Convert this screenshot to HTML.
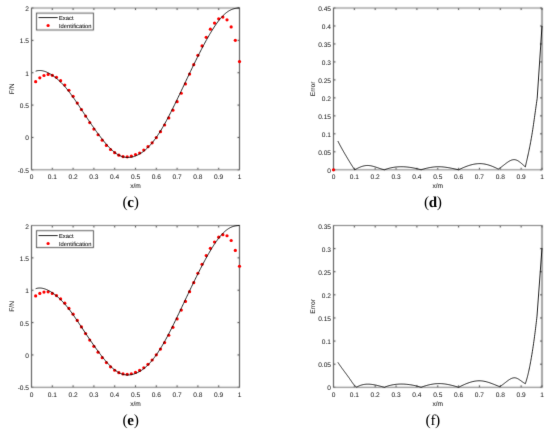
<!DOCTYPE html>
<html><head><meta charset="utf-8"><title>Figure</title>
<style>
html,body{margin:0;padding:0;background:#fff;}
body{width:550px;height:431px;overflow:hidden;}
svg{display:block;}
.ax{fill:none;stroke:#4b4b4b;stroke-width:1.0;}
.axh{fill:none;stroke:#7b7b7b;stroke-width:1.0;}
.tk{fill:none;stroke:#404040;stroke-width:1.0;}
.lg{fill:#fff;stroke:#4b4b4b;stroke-width:0.9;}
.cv{fill:none;stroke:#000;stroke-width:0.85;stroke-linejoin:round;}
.dt{fill:#ff0000;}
text{font-family:"Liberation Sans",Arial,Helvetica,sans-serif;text-rendering:geometricPrecision;}
.tl{font-size:6.6px;fill:#262626;stroke:#333;stroke-width:0.06px;}
.lt{font-size:5.8px;fill:#000;stroke:#000;stroke-width:0.05px;}
.cap{font-family:"Liberation Serif","Times New Roman",serif;font-size:15.6px;fill:#000;letter-spacing:-0.35px;}
.cap .b{font-weight:bold;}
.cap .l{font-size:15px;}
</style></head><body>
<svg width="550" height="431" viewBox="0 0 550 431">
<defs><filter id="bl" x="0" y="0" width="550" height="431" filterUnits="userSpaceOnUse" color-interpolation-filters="sRGB"><feConvolveMatrix order="3" kernelMatrix="1 2 1 2 12 2 1 2 1" divisor="24" edgeMode="duplicate"/></filter><filter id="bl2" x="0" y="0" width="550" height="431" filterUnits="userSpaceOnUse" color-interpolation-filters="sRGB"><feConvolveMatrix order="3" kernelMatrix="0 1 0 1 10 1 0 1 0" divisor="14" edgeMode="duplicate"/></filter></defs>
<g filter="url(#bl)">
<rect width="550" height="431" fill="#fff"/>
<path class="tk" d="M31.50 169.80v-2.00M31.50 8.00v2.00M52.30 169.80v-2.00M52.30 8.00v2.00M73.10 169.80v-2.00M73.10 8.00v2.00M93.90 169.80v-2.00M93.90 8.00v2.00M114.70 169.80v-2.00M114.70 8.00v2.00M135.50 169.80v-2.00M135.50 8.00v2.00M156.30 169.80v-2.00M156.30 8.00v2.00M177.10 169.80v-2.00M177.10 8.00v2.00M197.90 169.80v-2.00M197.90 8.00v2.00M218.70 169.80v-2.00M218.70 8.00v2.00M239.50 169.80v-2.00M239.50 8.00v2.00M31.50 169.80h2.00M239.50 169.80h-2.00M31.50 137.44h2.00M239.50 137.44h-2.00M31.50 105.08h2.00M239.50 105.08h-2.00M31.50 72.72h2.00M239.50 72.72h-2.00M31.50 40.36h2.00M239.50 40.36h-2.00M31.50 8.00h2.00M239.50 8.00h-2.00"/>
<path class="axh" d="M31.05 8.00H239.95M31.05 169.80H239.95"/>
<path class="ax" d="M31.50 8.00V169.80M239.50 8.00V169.80"/>
<rect class="lg" x="36.50" y="13.10" width="57" height="16.9"/>
<path class="tk" d="M333.50 169.80v-2.00M333.50 8.00v2.00M354.35 169.80v-2.00M354.35 8.00v2.00M375.20 169.80v-2.00M375.20 8.00v2.00M396.05 169.80v-2.00M396.05 8.00v2.00M416.90 169.80v-2.00M416.90 8.00v2.00M437.75 169.80v-2.00M437.75 8.00v2.00M458.60 169.80v-2.00M458.60 8.00v2.00M479.45 169.80v-2.00M479.45 8.00v2.00M500.30 169.80v-2.00M500.30 8.00v2.00M521.15 169.80v-2.00M521.15 8.00v2.00M542.00 169.80v-2.00M542.00 8.00v2.00M333.50 169.80h2.00M542.00 169.80h-2.00M333.50 151.82h2.00M542.00 151.82h-2.00M333.50 133.84h2.00M542.00 133.84h-2.00M333.50 115.87h2.00M542.00 115.87h-2.00M333.50 97.89h2.00M542.00 97.89h-2.00M333.50 79.91h2.00M542.00 79.91h-2.00M333.50 61.93h2.00M542.00 61.93h-2.00M333.50 43.96h2.00M542.00 43.96h-2.00M333.50 25.98h2.00M542.00 25.98h-2.00M333.50 8.00h2.00M542.00 8.00h-2.00"/>
<path class="axh" d="M333.05 8.00H542.45M333.05 169.80H542.45"/>
<path class="ax" d="M333.50 8.00V169.80M542.00 8.00V169.80"/>
<path class="tk" d="M31.50 387.30v-2.00M31.50 225.50v2.00M52.30 387.30v-2.00M52.30 225.50v2.00M73.10 387.30v-2.00M73.10 225.50v2.00M93.90 387.30v-2.00M93.90 225.50v2.00M114.70 387.30v-2.00M114.70 225.50v2.00M135.50 387.30v-2.00M135.50 225.50v2.00M156.30 387.30v-2.00M156.30 225.50v2.00M177.10 387.30v-2.00M177.10 225.50v2.00M197.90 387.30v-2.00M197.90 225.50v2.00M218.70 387.30v-2.00M218.70 225.50v2.00M239.50 387.30v-2.00M239.50 225.50v2.00M31.50 387.30h2.00M239.50 387.30h-2.00M31.50 354.94h2.00M239.50 354.94h-2.00M31.50 322.58h2.00M239.50 322.58h-2.00M31.50 290.22h2.00M239.50 290.22h-2.00M31.50 257.86h2.00M239.50 257.86h-2.00M31.50 225.50h2.00M239.50 225.50h-2.00"/>
<path class="axh" d="M31.05 225.50H239.95M31.05 387.30H239.95"/>
<path class="ax" d="M31.50 225.50V387.30M239.50 225.50V387.30"/>
<rect class="lg" x="36.50" y="230.70" width="57" height="16.9"/>
<path class="tk" d="M333.50 387.30v-2.00M333.50 225.50v2.00M354.35 387.30v-2.00M354.35 225.50v2.00M375.20 387.30v-2.00M375.20 225.50v2.00M396.05 387.30v-2.00M396.05 225.50v2.00M416.90 387.30v-2.00M416.90 225.50v2.00M437.75 387.30v-2.00M437.75 225.50v2.00M458.60 387.30v-2.00M458.60 225.50v2.00M479.45 387.30v-2.00M479.45 225.50v2.00M500.30 387.30v-2.00M500.30 225.50v2.00M521.15 387.30v-2.00M521.15 225.50v2.00M542.00 387.30v-2.00M542.00 225.50v2.00M333.50 387.30h2.00M542.00 387.30h-2.00M333.50 364.19h2.00M542.00 364.19h-2.00M333.50 341.07h2.00M542.00 341.07h-2.00M333.50 317.96h2.00M542.00 317.96h-2.00M333.50 294.84h2.00M542.00 294.84h-2.00M333.50 271.73h2.00M542.00 271.73h-2.00M333.50 248.61h2.00M542.00 248.61h-2.00M333.50 225.50h2.00M542.00 225.50h-2.00"/>
<path class="axh" d="M333.05 225.50H542.45M333.05 387.30H542.45"/>
<path class="ax" d="M333.50 225.50V387.30M542.00 225.50V387.30"/>
</g>
<g filter="url(#bl2)">
<circle class="dt" cx="35.66" cy="81.70" r="1.60"/>
<circle class="dt" cx="39.82" cy="77.81" r="1.60"/>
<circle class="dt" cx="43.98" cy="75.48" r="1.60"/>
<circle class="dt" cx="48.14" cy="74.44" r="1.60"/>
<circle class="dt" cx="52.30" cy="75.35" r="1.60"/>
<circle class="dt" cx="56.46" cy="77.29" r="1.60"/>
<circle class="dt" cx="60.62" cy="80.66" r="1.60"/>
<circle class="dt" cx="64.78" cy="85.07" r="1.60"/>
<circle class="dt" cx="68.94" cy="90.25" r="1.60"/>
<circle class="dt" cx="73.10" cy="96.28" r="1.60"/>
<circle class="dt" cx="77.26" cy="103.08" r="1.60"/>
<circle class="dt" cx="81.42" cy="109.62" r="1.60"/>
<circle class="dt" cx="85.58" cy="116.10" r="1.60"/>
<circle class="dt" cx="89.74" cy="122.58" r="1.60"/>
<circle class="dt" cx="93.90" cy="129.06" r="1.60"/>
<circle class="dt" cx="98.06" cy="134.77" r="1.60"/>
<circle class="dt" cx="102.22" cy="140.21" r="1.60"/>
<circle class="dt" cx="106.38" cy="145.39" r="1.60"/>
<circle class="dt" cx="110.54" cy="149.48" r="1.60"/>
<circle class="dt" cx="114.70" cy="152.65" r="1.60"/>
<circle class="dt" cx="118.86" cy="155.18" r="1.60"/>
<circle class="dt" cx="123.02" cy="156.54" r="1.60"/>
<circle class="dt" cx="127.18" cy="156.80" r="1.60"/>
<circle class="dt" cx="131.34" cy="156.22" r="1.60"/>
<circle class="dt" cx="135.50" cy="154.60" r="1.60"/>
<circle class="dt" cx="139.66" cy="152.98" r="1.60"/>
<circle class="dt" cx="143.82" cy="150.06" r="1.60"/>
<circle class="dt" cx="147.98" cy="146.69" r="1.60"/>
<circle class="dt" cx="152.14" cy="142.80" r="1.60"/>
<circle class="dt" cx="156.30" cy="137.62" r="1.60"/>
<circle class="dt" cx="160.46" cy="131.72" r="1.60"/>
<circle class="dt" cx="164.62" cy="124.98" r="1.60"/>
<circle class="dt" cx="168.78" cy="117.92" r="1.60"/>
<circle class="dt" cx="172.94" cy="110.21" r="1.60"/>
<circle class="dt" cx="177.10" cy="101.72" r="1.60"/>
<circle class="dt" cx="181.26" cy="93.23" r="1.60"/>
<circle class="dt" cx="185.42" cy="83.96" r="1.60"/>
<circle class="dt" cx="189.58" cy="74.11" r="1.60"/>
<circle class="dt" cx="193.74" cy="64.72" r="1.60"/>
<circle class="dt" cx="197.90" cy="55.32" r="1.60"/>
<circle class="dt" cx="202.06" cy="45.93" r="1.60"/>
<circle class="dt" cx="206.22" cy="37.31" r="1.60"/>
<circle class="dt" cx="210.38" cy="29.21" r="1.60"/>
<circle class="dt" cx="214.54" cy="23.05" r="1.60"/>
<circle class="dt" cx="218.70" cy="18.78" r="1.60"/>
<circle class="dt" cx="222.86" cy="17.09" r="1.60"/>
<circle class="dt" cx="227.02" cy="19.81" r="1.60"/>
<circle class="dt" cx="231.18" cy="26.94" r="1.60"/>
<circle class="dt" cx="235.34" cy="40.29" r="1.60"/>
<circle class="dt" cx="239.50" cy="61.61" r="1.60"/>
<path class="cv" d="M35.66 71.19L36.34 70.97L37.02 70.80L37.71 70.67L38.39 70.59L39.07 70.53L39.75 70.52L40.43 70.54L41.11 70.59L41.80 70.68L42.48 70.80L43.16 70.94L43.84 71.12L44.52 71.32L45.20 71.55L45.89 71.80L46.57 72.08L47.25 72.38L47.93 72.70L48.61 73.05L49.29 73.41L49.98 73.80L50.66 74.20L51.34 74.63L52.02 75.07L52.70 75.53L53.39 76.01L54.07 76.51L54.75 77.02L55.43 77.55L56.11 78.10L56.79 78.66L57.48 79.24L58.16 79.84L58.84 80.45L59.52 81.08L60.20 81.73L60.88 82.39L61.57 83.07L62.25 83.77L62.93 84.49L63.61 85.22L64.29 85.97L64.97 86.74L65.66 87.53L66.34 88.34L67.02 89.16L67.70 90.01L68.38 90.87L69.07 91.75L69.75 92.64L70.43 93.55L71.11 94.47L71.79 95.41L72.47 96.36L73.16 97.32L73.84 98.29L74.52 99.27L75.20 100.27L75.88 101.26L76.56 102.27L77.25 103.28L77.93 104.29L78.61 105.31L79.29 106.33L79.97 107.36L80.65 108.38L81.34 109.41L82.02 110.43L82.70 111.46L83.38 112.48L84.06 113.51L84.75 114.53L85.43 115.55L86.11 116.57L86.79 117.59L87.47 118.60L88.15 119.61L88.84 120.62L89.52 121.62L90.20 122.62L90.88 123.62L91.56 124.61L92.24 125.60L92.93 126.58L93.61 127.56L94.29 128.53L94.97 129.50L95.65 130.46L96.33 131.41L97.02 132.35L97.70 133.29L98.38 134.21L99.06 135.13L99.74 136.04L100.43 136.94L101.11 137.83L101.79 138.71L102.47 139.57L103.15 140.43L103.83 141.27L104.52 142.09L105.20 142.91L105.88 143.71L106.56 144.49L107.24 145.26L107.92 146.01L108.61 146.74L109.29 147.46L109.97 148.15L110.65 148.83L111.33 149.49L112.01 150.12L112.70 150.73L113.38 151.33L114.06 151.89L114.74 152.44L115.42 152.95L116.11 153.45L116.79 153.91L117.47 154.35L118.15 154.76L118.83 155.14L119.51 155.50L120.20 155.82L120.88 156.12L121.56 156.39L122.24 156.62L122.92 156.83L123.60 157.01L124.29 157.16L124.97 157.29L125.65 157.38L126.33 157.45L127.01 157.49L127.69 157.50L128.38 157.49L129.06 157.45L129.74 157.39L130.42 157.30L131.10 157.20L131.79 157.07L132.47 156.91L133.15 156.74L133.83 156.54L134.51 156.32L135.19 156.08L135.88 155.81L136.56 155.53L137.24 155.23L137.92 154.90L138.60 154.55L139.28 154.18L139.97 153.79L140.65 153.37L141.33 152.93L142.01 152.47L142.69 151.99L143.37 151.48L144.06 150.95L144.74 150.40L145.42 149.82L146.10 149.22L146.78 148.59L147.47 147.94L148.15 147.27L148.83 146.57L149.51 145.85L150.19 145.10L150.87 144.33L151.56 143.53L152.24 142.71L152.92 141.87L153.60 141.01L154.28 140.12L154.96 139.20L155.65 138.27L156.33 137.31L157.01 136.33L157.69 135.33L158.37 134.30L159.05 133.26L159.74 132.19L160.42 131.10L161.10 129.99L161.78 128.87L162.46 127.72L163.15 126.55L163.83 125.37L164.51 124.17L165.19 122.95L165.87 121.71L166.55 120.46L167.24 119.19L167.92 117.91L168.60 116.61L169.28 115.30L169.96 113.98L170.64 112.65L171.33 111.30L172.01 109.94L172.69 108.58L173.37 107.20L174.05 105.82L174.73 104.43L175.42 103.03L176.10 101.63L176.78 100.22L177.46 98.80L178.14 97.38L178.83 95.95L179.51 94.53L180.19 93.09L180.87 91.66L181.55 90.22L182.23 88.78L182.92 87.35L183.60 85.91L184.28 84.47L184.96 83.03L185.64 81.59L186.32 80.15L187.01 78.71L187.69 77.28L188.37 75.85L189.05 74.42L189.73 73.00L190.41 71.57L191.10 70.16L191.78 68.74L192.46 67.33L193.14 65.93L193.82 64.53L194.51 63.14L195.19 61.75L195.87 60.37L196.55 59.00L197.23 57.63L197.91 56.27L198.60 54.91L199.28 53.57L199.96 52.23L200.64 50.90L201.32 49.58L202.00 48.27L202.69 46.97L203.37 45.68L204.05 44.40L204.73 43.14L205.41 41.88L206.09 40.64L206.78 39.41L207.46 38.19L208.14 36.99L208.82 35.80L209.50 34.63L210.19 33.48L210.87 32.34L211.55 31.22L212.23 30.11L212.91 29.03L213.59 27.97L214.28 26.92L214.96 25.90L215.64 24.90L216.32 23.92L217.00 22.96L217.68 22.03L218.37 21.12L219.05 20.24L219.73 19.39L220.41 18.56L221.09 17.76L221.77 17.00L222.46 16.26L223.14 15.55L223.82 14.88L224.50 14.24L225.18 13.63L225.87 13.05L226.55 12.51L227.23 12.00L227.91 11.53L228.59 11.09L229.27 10.68L229.96 10.30L230.64 9.96L231.32 9.65L232.00 9.37L232.68 9.12L233.36 8.89L234.05 8.70L234.73 8.53L235.41 8.39L236.09 8.27L236.77 8.17L237.45 8.09L238.14 8.03L238.82 7.98L239.50 7.95"/>
<path class="cv" d="M38.50 17.60h19.2"/>
<circle class="dt" cx="48.10" cy="25.50" r="1.60"/>
<path class="cv" d="M337.88 141.04L338.23 141.74L338.58 142.44L338.93 143.13L339.29 143.82L339.64 144.49L339.99 145.16L340.34 145.82L340.69 146.48L341.05 147.13L341.40 147.77L341.75 148.41L342.10 149.04L342.45 149.67L342.80 150.29L343.16 150.91L343.51 151.52L343.86 152.13L344.21 152.74L344.56 153.35L344.92 153.95L345.27 154.55L345.62 155.15L345.97 155.74L346.32 156.34L346.67 156.93L347.03 157.52L347.38 158.11L347.73 158.70L348.08 159.29L348.43 159.88L348.79 160.47L349.14 161.05L349.49 161.63L349.84 162.20L350.19 162.78L350.54 163.35L350.90 163.91L351.25 164.48L351.60 165.03L351.95 165.59L352.30 166.13L352.66 166.68L353.01 167.21L353.36 167.74L353.71 168.27L354.06 168.79L354.42 169.30L354.77 169.80L355.38 169.45L356.00 169.11L356.62 168.77L357.23 168.45L357.85 168.14L358.47 167.84L359.08 167.56L359.70 167.29L360.32 167.04L360.94 166.80L361.55 166.58L362.17 166.37L362.79 166.19L363.40 166.02L364.02 165.88L364.64 165.75L365.25 165.65L365.87 165.57L366.49 165.52L367.10 165.49L367.72 165.48L368.34 165.50L368.95 165.54L369.57 165.61L370.19 165.69L370.80 165.79L371.42 165.91L372.04 166.04L372.65 166.19L373.27 166.35L373.89 166.53L374.50 166.71L375.12 166.90L375.74 167.10L376.36 167.30L376.97 167.51L377.59 167.72L378.21 167.93L378.82 168.14L379.44 168.35L380.06 168.56L380.67 168.76L381.29 168.96L381.91 169.15L382.52 169.33L383.14 169.50L383.76 169.65L384.37 169.80L385.14 169.51L385.90 169.25L386.67 168.99L387.43 168.75L388.20 168.53L388.96 168.32L389.73 168.12L390.49 167.94L391.25 167.77L392.02 167.62L392.78 167.47L393.55 167.35L394.31 167.23L395.08 167.13L395.84 167.04L396.61 166.96L397.37 166.90L398.13 166.84L398.90 166.80L399.66 166.77L400.43 166.75L401.19 166.74L401.96 166.75L402.72 166.76L403.49 166.78L404.25 166.82L405.02 166.86L405.78 166.91L406.54 166.98L407.31 167.05L408.07 167.13L408.84 167.22L409.60 167.32L410.37 167.43L411.13 167.55L411.90 167.68L412.66 167.81L413.43 167.96L414.19 168.11L414.95 168.27L415.72 168.43L416.48 168.61L417.25 168.79L418.01 168.98L418.78 169.17L419.54 169.38L420.31 169.58L421.07 169.80L421.85 169.55L422.63 169.31L423.42 169.08L424.20 168.86L424.98 168.65L425.76 168.45L426.54 168.26L427.32 168.08L428.11 167.90L428.89 167.74L429.67 167.59L430.45 167.46L431.23 167.33L432.02 167.21L432.80 167.11L433.58 167.02L434.36 166.94L435.14 166.88L435.93 166.82L436.71 166.78L437.49 166.76L438.27 166.74L439.05 166.75L439.84 166.76L440.62 166.79L441.40 166.83L442.18 166.89L442.96 166.95L443.74 167.03L444.53 167.12L445.31 167.21L446.09 167.32L446.87 167.43L447.65 167.56L448.44 167.69L449.22 167.82L450.00 167.97L450.78 168.12L451.56 168.27L452.34 168.43L453.13 168.59L453.91 168.76L454.69 168.93L455.47 169.10L456.25 169.28L457.04 169.45L457.82 169.63L458.60 169.80L459.43 169.40L460.25 169.01L461.08 168.63L461.90 168.26L462.73 167.89L463.55 167.54L464.38 167.19L465.20 166.86L466.03 166.54L466.85 166.23L467.68 165.93L468.50 165.65L469.33 165.39L470.15 165.14L470.98 164.91L471.81 164.69L472.63 164.49L473.46 164.31L474.28 164.15L475.11 164.01L475.93 163.89L476.76 163.80L477.58 163.72L478.41 163.67L479.23 163.64L480.06 163.63L480.88 163.65L481.71 163.70L482.53 163.77L483.36 163.87L484.18 163.99L485.01 164.14L485.84 164.31L486.66 164.50L487.49 164.71L488.31 164.94L489.14 165.20L489.96 165.47L490.79 165.76L491.61 166.07L492.44 166.39L493.26 166.74L494.09 167.09L494.91 167.47L495.74 167.85L496.56 168.25L497.39 168.66L498.22 169.08L498.78 168.76L499.34 168.41L499.91 168.04L500.47 167.65L501.04 167.24L501.60 166.82L502.17 166.39L502.73 165.95L503.30 165.50L503.86 165.06L504.43 164.61L504.99 164.16L505.56 163.72L506.12 163.29L506.69 162.87L507.25 162.47L507.81 162.08L508.38 161.71L508.94 161.36L509.51 161.03L510.07 160.73L510.64 160.47L511.20 160.23L511.77 160.03L512.33 159.87L512.90 159.75L513.46 159.68L514.03 159.65L514.59 159.67L515.16 159.74L515.72 159.87L516.28 160.04L516.85 160.27L517.41 160.53L517.98 160.84L518.54 161.18L519.11 161.56L519.67 161.97L520.24 162.40L520.80 162.86L521.37 163.33L521.93 163.83L522.50 164.33L523.06 164.84L523.63 165.36L524.19 165.89L524.76 166.41L525.32 166.92L525.57 165.85L525.82 164.78L526.06 163.70L526.31 162.63L526.56 161.55L526.81 160.47L527.05 159.38L527.30 158.28L527.55 157.18L527.80 156.07L528.04 154.94L528.29 153.80L528.54 152.65L528.79 151.48L529.03 150.29L529.28 149.08L529.53 147.86L529.78 146.61L530.02 145.34L530.27 144.05L530.52 142.73L530.77 141.39L531.01 140.01L531.26 138.61L531.51 137.18L531.76 135.71L532.01 134.21L532.25 132.68L532.50 131.10L532.75 129.50L533.00 127.86L533.24 126.19L533.49 124.49L533.74 122.77L533.99 121.03L534.23 119.28L534.48 117.51L534.73 115.74L534.98 113.96L535.22 112.18L535.47 110.40L535.72 108.62L535.97 106.85L536.21 105.09L536.46 103.35L536.71 101.63L536.96 99.93L537.20 98.25L542.00 25.98"/>
<circle class="dt" cx="333.50" cy="169.80" r="1.60"/>
<circle class="dt" cx="35.66" cy="295.92" r="1.60"/>
<circle class="dt" cx="39.82" cy="293.46" r="1.60"/>
<circle class="dt" cx="43.98" cy="292.03" r="1.60"/>
<circle class="dt" cx="48.14" cy="291.84" r="1.60"/>
<circle class="dt" cx="52.30" cy="293.46" r="1.60"/>
<circle class="dt" cx="56.46" cy="295.53" r="1.60"/>
<circle class="dt" cx="60.62" cy="298.89" r="1.60"/>
<circle class="dt" cx="64.78" cy="303.16" r="1.60"/>
<circle class="dt" cx="68.94" cy="308.47" r="1.60"/>
<circle class="dt" cx="73.10" cy="314.17" r="1.60"/>
<circle class="dt" cx="77.26" cy="320.43" r="1.60"/>
<circle class="dt" cx="81.42" cy="326.97" r="1.60"/>
<circle class="dt" cx="85.58" cy="333.62" r="1.60"/>
<circle class="dt" cx="89.74" cy="340.10" r="1.60"/>
<circle class="dt" cx="93.90" cy="346.31" r="1.60"/>
<circle class="dt" cx="98.06" cy="352.18" r="1.60"/>
<circle class="dt" cx="102.22" cy="357.64" r="1.60"/>
<circle class="dt" cx="106.38" cy="362.56" r="1.60"/>
<circle class="dt" cx="110.54" cy="366.81" r="1.60"/>
<circle class="dt" cx="114.70" cy="370.24" r="1.60"/>
<circle class="dt" cx="118.86" cy="372.66" r="1.60"/>
<circle class="dt" cx="123.02" cy="373.96" r="1.60"/>
<circle class="dt" cx="127.18" cy="374.28" r="1.60"/>
<circle class="dt" cx="131.34" cy="373.73" r="1.60"/>
<circle class="dt" cx="135.50" cy="372.43" r="1.60"/>
<circle class="dt" cx="139.66" cy="370.46" r="1.60"/>
<circle class="dt" cx="143.82" cy="367.76" r="1.60"/>
<circle class="dt" cx="147.98" cy="364.29" r="1.60"/>
<circle class="dt" cx="152.14" cy="359.99" r="1.60"/>
<circle class="dt" cx="156.30" cy="354.85" r="1.60"/>
<circle class="dt" cx="160.46" cy="349.11" r="1.60"/>
<circle class="dt" cx="164.62" cy="342.55" r="1.60"/>
<circle class="dt" cx="168.78" cy="335.24" r="1.60"/>
<circle class="dt" cx="172.94" cy="327.31" r="1.60"/>
<circle class="dt" cx="177.10" cy="318.88" r="1.60"/>
<circle class="dt" cx="181.26" cy="310.05" r="1.60"/>
<circle class="dt" cx="185.42" cy="301.42" r="1.60"/>
<circle class="dt" cx="189.58" cy="291.64" r="1.60"/>
<circle class="dt" cx="193.74" cy="282.65" r="1.60"/>
<circle class="dt" cx="197.90" cy="273.26" r="1.60"/>
<circle class="dt" cx="202.06" cy="264.33" r="1.60"/>
<circle class="dt" cx="206.22" cy="255.59" r="1.60"/>
<circle class="dt" cx="210.38" cy="248.28" r="1.60"/>
<circle class="dt" cx="214.54" cy="242.00" r="1.60"/>
<circle class="dt" cx="218.70" cy="237.15" r="1.60"/>
<circle class="dt" cx="222.86" cy="234.69" r="1.60"/>
<circle class="dt" cx="227.02" cy="235.73" r="1.60"/>
<circle class="dt" cx="231.18" cy="240.52" r="1.60"/>
<circle class="dt" cx="235.34" cy="250.42" r="1.60"/>
<circle class="dt" cx="239.50" cy="266.27" r="1.60"/>
<path class="cv" d="M35.66 288.69L36.34 288.47L37.02 288.30L37.71 288.17L38.39 288.09L39.07 288.03L39.75 288.02L40.43 288.04L41.11 288.09L41.80 288.18L42.48 288.30L43.16 288.44L43.84 288.62L44.52 288.82L45.20 289.05L45.89 289.30L46.57 289.58L47.25 289.88L47.93 290.20L48.61 290.55L49.29 290.91L49.98 291.30L50.66 291.70L51.34 292.13L52.02 292.57L52.70 293.03L53.39 293.51L54.07 294.01L54.75 294.52L55.43 295.05L56.11 295.60L56.79 296.16L57.48 296.74L58.16 297.34L58.84 297.95L59.52 298.58L60.20 299.23L60.88 299.89L61.57 300.57L62.25 301.27L62.93 301.99L63.61 302.72L64.29 303.47L64.97 304.24L65.66 305.03L66.34 305.84L67.02 306.66L67.70 307.51L68.38 308.37L69.07 309.25L69.75 310.14L70.43 311.05L71.11 311.97L71.79 312.91L72.47 313.86L73.16 314.82L73.84 315.79L74.52 316.77L75.20 317.77L75.88 318.76L76.56 319.77L77.25 320.78L77.93 321.79L78.61 322.81L79.29 323.83L79.97 324.86L80.65 325.88L81.34 326.91L82.02 327.93L82.70 328.96L83.38 329.98L84.06 331.01L84.75 332.03L85.43 333.05L86.11 334.07L86.79 335.09L87.47 336.10L88.15 337.11L88.84 338.12L89.52 339.12L90.20 340.12L90.88 341.12L91.56 342.11L92.24 343.10L92.93 344.08L93.61 345.06L94.29 346.03L94.97 347.00L95.65 347.96L96.33 348.91L97.02 349.85L97.70 350.79L98.38 351.71L99.06 352.63L99.74 353.54L100.43 354.44L101.11 355.33L101.79 356.21L102.47 357.07L103.15 357.93L103.83 358.77L104.52 359.59L105.20 360.41L105.88 361.21L106.56 361.99L107.24 362.76L107.92 363.51L108.61 364.24L109.29 364.96L109.97 365.65L110.65 366.33L111.33 366.99L112.01 367.62L112.70 368.23L113.38 368.83L114.06 369.39L114.74 369.94L115.42 370.45L116.11 370.95L116.79 371.41L117.47 371.85L118.15 372.26L118.83 372.64L119.51 373.00L120.20 373.32L120.88 373.62L121.56 373.89L122.24 374.12L122.92 374.33L123.60 374.51L124.29 374.66L124.97 374.79L125.65 374.88L126.33 374.95L127.01 374.99L127.69 375.00L128.38 374.99L129.06 374.95L129.74 374.89L130.42 374.80L131.10 374.70L131.79 374.57L132.47 374.41L133.15 374.24L133.83 374.04L134.51 373.82L135.19 373.58L135.88 373.31L136.56 373.03L137.24 372.73L137.92 372.40L138.60 372.05L139.28 371.68L139.97 371.29L140.65 370.87L141.33 370.43L142.01 369.97L142.69 369.49L143.37 368.98L144.06 368.45L144.74 367.90L145.42 367.32L146.10 366.72L146.78 366.09L147.47 365.44L148.15 364.77L148.83 364.07L149.51 363.35L150.19 362.60L150.87 361.83L151.56 361.03L152.24 360.21L152.92 359.37L153.60 358.51L154.28 357.62L154.96 356.70L155.65 355.77L156.33 354.81L157.01 353.83L157.69 352.83L158.37 351.80L159.05 350.76L159.74 349.69L160.42 348.60L161.10 347.49L161.78 346.37L162.46 345.22L163.15 344.05L163.83 342.87L164.51 341.67L165.19 340.45L165.87 339.21L166.55 337.96L167.24 336.69L167.92 335.41L168.60 334.11L169.28 332.80L169.96 331.48L170.64 330.15L171.33 328.80L172.01 327.44L172.69 326.08L173.37 324.70L174.05 323.32L174.73 321.93L175.42 320.53L176.10 319.13L176.78 317.72L177.46 316.30L178.14 314.88L178.83 313.45L179.51 312.03L180.19 310.59L180.87 309.16L181.55 307.72L182.23 306.28L182.92 304.85L183.60 303.41L184.28 301.97L184.96 300.53L185.64 299.09L186.32 297.65L187.01 296.21L187.69 294.78L188.37 293.35L189.05 291.92L189.73 290.50L190.41 289.07L191.10 287.66L191.78 286.24L192.46 284.83L193.14 283.43L193.82 282.03L194.51 280.64L195.19 279.25L195.87 277.87L196.55 276.50L197.23 275.13L197.91 273.77L198.60 272.41L199.28 271.07L199.96 269.73L200.64 268.40L201.32 267.08L202.00 265.77L202.69 264.47L203.37 263.18L204.05 261.90L204.73 260.64L205.41 259.38L206.09 258.14L206.78 256.91L207.46 255.69L208.14 254.49L208.82 253.30L209.50 252.13L210.19 250.98L210.87 249.84L211.55 248.72L212.23 247.61L212.91 246.53L213.59 245.47L214.28 244.42L214.96 243.40L215.64 242.40L216.32 241.42L217.00 240.46L217.68 239.53L218.37 238.62L219.05 237.74L219.73 236.89L220.41 236.06L221.09 235.26L221.77 234.50L222.46 233.76L223.14 233.05L223.82 232.38L224.50 231.74L225.18 231.13L225.87 230.55L226.55 230.01L227.23 229.50L227.91 229.03L228.59 228.59L229.27 228.18L229.96 227.80L230.64 227.46L231.32 227.15L232.00 226.87L232.68 226.62L233.36 226.39L234.05 226.20L234.73 226.03L235.41 225.89L236.09 225.77L236.77 225.67L237.45 225.59L238.14 225.53L238.82 225.48L239.50 225.45"/>
<path class="cv" d="M38.50 235.60h19.2"/>
<circle class="dt" cx="48.10" cy="243.50" r="1.60"/>
<path class="cv" d="M337.88 362.34L338.19 362.82L338.51 363.30L338.83 363.77L339.14 364.24L339.46 364.70L339.78 365.16L340.09 365.62L340.41 366.07L340.72 366.51L341.04 366.95L341.36 367.39L341.67 367.83L341.99 368.27L342.31 368.70L342.62 369.13L342.94 369.56L343.25 369.98L343.57 370.41L343.89 370.83L344.20 371.26L344.52 371.68L344.84 372.10L345.15 372.53L345.47 372.95L345.78 373.38L346.10 373.81L346.42 374.24L346.73 374.67L347.05 375.10L347.37 375.53L347.68 375.97L348.00 376.41L348.31 376.85L348.63 377.29L348.95 377.74L349.26 378.18L349.58 378.63L349.90 379.08L350.21 379.53L350.53 379.99L350.84 380.44L351.16 380.90L351.48 381.36L351.79 381.81L352.11 382.27L352.42 382.72L352.74 383.17L353.06 383.60L353.37 384.03L353.69 384.43L354.01 384.82L354.32 385.19L354.64 385.54L354.95 385.85L355.27 386.15L355.59 386.40L355.90 386.63L356.22 386.82L356.54 386.96L356.85 387.07L357.43 386.74L358.00 386.44L358.57 386.15L359.15 385.89L359.72 385.65L360.29 385.43L360.87 385.23L361.44 385.05L362.01 384.89L362.59 384.74L363.16 384.61L363.73 384.50L364.31 384.41L364.88 384.33L365.45 384.27L366.03 384.22L366.60 384.18L367.17 384.16L367.75 384.16L368.32 384.16L368.89 384.18L369.47 384.20L370.04 384.24L370.61 384.29L371.19 384.35L371.76 384.41L372.33 384.49L372.91 384.57L373.48 384.67L374.05 384.77L374.63 384.87L375.20 384.99L375.77 385.11L376.35 385.23L376.92 385.36L377.49 385.50L378.07 385.64L378.64 385.78L379.21 385.93L379.79 386.07L380.36 386.23L380.93 386.38L381.51 386.53L382.08 386.69L382.65 386.84L383.23 386.99L383.80 387.15L384.37 387.30L385.14 386.99L385.90 386.70L386.67 386.42L387.43 386.17L388.20 385.93L388.96 385.70L389.73 385.49L390.49 385.30L391.25 385.12L392.02 384.96L392.78 384.81L393.55 384.68L394.31 384.56L395.08 384.45L395.84 384.36L396.61 384.28L397.37 384.22L398.13 384.16L398.90 384.12L399.66 384.09L400.43 384.07L401.19 384.06L401.96 384.07L402.72 384.08L403.49 384.10L404.25 384.14L405.02 384.18L405.78 384.24L406.54 384.30L407.31 384.38L408.07 384.46L408.84 384.55L409.60 384.66L410.37 384.77L411.13 384.89L411.90 385.03L412.66 385.17L413.43 385.32L414.19 385.48L414.95 385.64L415.72 385.82L416.48 386.01L417.25 386.20L418.01 386.40L418.78 386.62L419.54 386.84L420.31 387.06L421.07 387.30L421.85 387.01L422.63 386.73L423.42 386.46L424.20 386.20L424.98 385.95L425.76 385.72L426.54 385.49L427.32 385.27L428.11 385.07L428.89 384.88L429.67 384.70L430.45 384.53L431.23 384.38L432.02 384.24L432.80 384.11L433.58 383.99L434.36 383.89L435.14 383.81L435.93 383.73L436.71 383.68L437.49 383.64L438.27 383.61L439.05 383.60L439.84 383.60L440.62 383.62L441.40 383.66L442.18 383.71L442.96 383.78L443.74 383.85L444.53 383.95L445.31 384.05L446.09 384.17L446.87 384.30L447.65 384.44L448.44 384.60L449.22 384.76L450.00 384.93L450.78 385.11L451.56 385.30L452.34 385.50L453.13 385.70L453.91 385.91L454.69 386.13L455.47 386.36L456.25 386.59L457.04 386.82L457.82 387.06L458.60 387.30L459.45 386.86L460.30 386.43L461.15 386.01L462.01 385.60L462.86 385.20L463.71 384.80L464.56 384.43L465.41 384.06L466.26 383.71L467.11 383.37L467.97 383.05L468.82 382.75L469.67 382.46L470.52 382.20L471.37 381.95L472.22 381.73L473.07 381.52L473.92 381.34L474.78 381.18L475.63 381.05L476.48 380.94L477.33 380.86L478.18 380.81L479.03 380.79L479.88 380.79L480.74 380.83L481.59 380.90L482.44 380.99L483.29 381.12L484.14 381.27L484.99 381.45L485.84 381.64L486.70 381.87L487.55 382.11L488.40 382.36L489.25 382.64L490.10 382.93L490.95 383.23L491.80 383.54L492.66 383.87L493.51 384.20L494.36 384.54L495.21 384.88L496.06 385.22L496.91 385.57L497.76 385.92L498.61 386.26L499.47 386.61L500.00 386.34L500.54 386.05L501.08 385.72L501.62 385.38L502.16 385.01L502.70 384.63L503.24 384.23L503.77 383.82L504.31 383.40L504.85 382.97L505.39 382.54L505.93 382.12L506.47 381.69L507.01 381.28L507.55 380.87L508.08 380.47L508.62 380.09L509.16 379.73L509.70 379.39L510.24 379.07L510.78 378.78L511.32 378.52L511.85 378.30L512.39 378.11L512.93 377.96L513.47 377.86L514.01 377.79L514.55 377.78L515.09 377.82L515.62 377.91L516.16 378.06L516.70 378.24L517.24 378.47L517.78 378.74L518.32 379.03L518.86 379.36L519.40 379.71L519.93 380.07L520.47 380.45L521.01 380.83L521.55 381.23L522.09 381.62L522.63 382.00L523.17 382.38L523.70 382.74L524.24 383.08L524.78 383.40L525.32 383.69L525.56 383.01L525.81 382.29L526.05 381.54L526.29 380.76L526.54 379.95L526.78 379.11L527.02 378.24L527.27 377.34L527.51 376.41L527.75 375.45L528.00 374.45L528.24 373.43L528.48 372.37L528.73 371.29L528.97 370.18L529.21 369.03L529.46 367.86L529.70 366.65L529.94 365.42L530.18 364.16L530.43 362.86L530.67 361.54L530.91 360.19L531.16 358.81L531.40 357.40L531.64 355.96L531.89 354.49L532.13 352.99L532.37 351.46L532.62 349.91L532.86 348.32L533.10 346.70L533.35 345.06L533.59 343.38L533.83 341.67L534.08 339.92L534.32 338.14L534.56 336.33L534.81 334.48L535.05 332.59L535.29 330.67L535.54 328.71L535.78 326.71L536.02 324.67L536.27 322.59L536.51 320.47L536.75 318.31L537.00 316.11L542.00 248.15"/>
</g>
<g class="txt" filter="url(#bl2)">
<text class="tl" x="31.50" y="179.40" text-anchor="middle">0</text>
<text class="tl" x="52.30" y="179.40" text-anchor="middle">0.1</text>
<text class="tl" x="73.10" y="179.40" text-anchor="middle">0.2</text>
<text class="tl" x="93.90" y="179.40" text-anchor="middle">0.3</text>
<text class="tl" x="114.70" y="179.40" text-anchor="middle">0.4</text>
<text class="tl" x="135.50" y="179.40" text-anchor="middle">0.5</text>
<text class="tl" x="156.30" y="179.40" text-anchor="middle">0.6</text>
<text class="tl" x="177.10" y="179.40" text-anchor="middle">0.7</text>
<text class="tl" x="197.90" y="179.40" text-anchor="middle">0.8</text>
<text class="tl" x="218.70" y="179.40" text-anchor="middle">0.9</text>
<text class="tl" x="239.50" y="179.40" text-anchor="middle">1</text>
<text class="tl" x="29.00" y="172.80" text-anchor="end">-0.5</text>
<text class="tl" x="29.00" y="140.44" text-anchor="end">0</text>
<text class="tl" x="29.00" y="108.08" text-anchor="end">0.5</text>
<text class="tl" x="29.00" y="75.72" text-anchor="end">1</text>
<text class="tl" x="29.00" y="43.36" text-anchor="end">1.5</text>
<text class="tl" x="29.00" y="11.00" text-anchor="end">2</text>
<text class="tl" x="135.50" y="187.70" text-anchor="middle">x/m</text>
<text class="tl" transform="translate(13.90 88.90) rotate(-90)" text-anchor="middle">F/N</text>
<text class="cap" x="130.50" y="206.70" text-anchor="middle">(<tspan class="l b">c</tspan>)</text>
<text class="lt" x="59.00" y="20.20">Exact</text>
<text class="lt" x="59.00" y="27.60">Identification</text>
<text class="tl" x="333.50" y="179.40" text-anchor="middle">0</text>
<text class="tl" x="354.35" y="179.40" text-anchor="middle">0.1</text>
<text class="tl" x="375.20" y="179.40" text-anchor="middle">0.2</text>
<text class="tl" x="396.05" y="179.40" text-anchor="middle">0.3</text>
<text class="tl" x="416.90" y="179.40" text-anchor="middle">0.4</text>
<text class="tl" x="437.75" y="179.40" text-anchor="middle">0.5</text>
<text class="tl" x="458.60" y="179.40" text-anchor="middle">0.6</text>
<text class="tl" x="479.45" y="179.40" text-anchor="middle">0.7</text>
<text class="tl" x="500.30" y="179.40" text-anchor="middle">0.8</text>
<text class="tl" x="521.15" y="179.40" text-anchor="middle">0.9</text>
<text class="tl" x="542.00" y="179.40" text-anchor="middle">1</text>
<text class="tl" x="331.00" y="172.80" text-anchor="end">0</text>
<text class="tl" x="331.00" y="154.82" text-anchor="end">0.05</text>
<text class="tl" x="331.00" y="136.84" text-anchor="end">0.1</text>
<text class="tl" x="331.00" y="118.87" text-anchor="end">0.15</text>
<text class="tl" x="331.00" y="100.89" text-anchor="end">0.2</text>
<text class="tl" x="331.00" y="82.91" text-anchor="end">0.25</text>
<text class="tl" x="331.00" y="64.93" text-anchor="end">0.3</text>
<text class="tl" x="331.00" y="46.96" text-anchor="end">0.35</text>
<text class="tl" x="331.00" y="28.98" text-anchor="end">0.4</text>
<text class="tl" x="331.00" y="11.00" text-anchor="end">0.45</text>
<text class="tl" x="437.75" y="187.70" text-anchor="middle">x/m</text>
<text class="tl" transform="translate(314.50 88.90) rotate(-90)" text-anchor="middle">Error</text>
<text class="cap" x="432.75" y="206.70" text-anchor="middle">(<tspan class="l b">d</tspan>)</text>
<text class="tl" x="31.50" y="397.20" text-anchor="middle">0</text>
<text class="tl" x="52.30" y="397.20" text-anchor="middle">0.1</text>
<text class="tl" x="73.10" y="397.20" text-anchor="middle">0.2</text>
<text class="tl" x="93.90" y="397.20" text-anchor="middle">0.3</text>
<text class="tl" x="114.70" y="397.20" text-anchor="middle">0.4</text>
<text class="tl" x="135.50" y="397.20" text-anchor="middle">0.5</text>
<text class="tl" x="156.30" y="397.20" text-anchor="middle">0.6</text>
<text class="tl" x="177.10" y="397.20" text-anchor="middle">0.7</text>
<text class="tl" x="197.90" y="397.20" text-anchor="middle">0.8</text>
<text class="tl" x="218.70" y="397.20" text-anchor="middle">0.9</text>
<text class="tl" x="239.50" y="397.20" text-anchor="middle">1</text>
<text class="tl" x="29.00" y="390.30" text-anchor="end">-0.5</text>
<text class="tl" x="29.00" y="357.94" text-anchor="end">0</text>
<text class="tl" x="29.00" y="325.58" text-anchor="end">0.5</text>
<text class="tl" x="29.00" y="293.22" text-anchor="end">1</text>
<text class="tl" x="29.00" y="260.86" text-anchor="end">1.5</text>
<text class="tl" x="29.00" y="228.50" text-anchor="end">2</text>
<text class="tl" x="135.50" y="405.80" text-anchor="middle">x/m</text>
<text class="tl" transform="translate(13.90 306.40) rotate(-90)" text-anchor="middle">F/N</text>
<text class="cap" x="130.50" y="425.00" text-anchor="middle">(<tspan class="l b">e</tspan>)</text>
<text class="lt" x="59.00" y="238.20">Exact</text>
<text class="lt" x="59.00" y="245.60">Identification</text>
<text class="tl" x="333.50" y="397.20" text-anchor="middle">0</text>
<text class="tl" x="354.35" y="397.20" text-anchor="middle">0.1</text>
<text class="tl" x="375.20" y="397.20" text-anchor="middle">0.2</text>
<text class="tl" x="396.05" y="397.20" text-anchor="middle">0.3</text>
<text class="tl" x="416.90" y="397.20" text-anchor="middle">0.4</text>
<text class="tl" x="437.75" y="397.20" text-anchor="middle">0.5</text>
<text class="tl" x="458.60" y="397.20" text-anchor="middle">0.6</text>
<text class="tl" x="479.45" y="397.20" text-anchor="middle">0.7</text>
<text class="tl" x="500.30" y="397.20" text-anchor="middle">0.8</text>
<text class="tl" x="521.15" y="397.20" text-anchor="middle">0.9</text>
<text class="tl" x="542.00" y="397.20" text-anchor="middle">1</text>
<text class="tl" x="331.00" y="390.30" text-anchor="end">0</text>
<text class="tl" x="331.00" y="367.19" text-anchor="end">0.05</text>
<text class="tl" x="331.00" y="344.07" text-anchor="end">0.1</text>
<text class="tl" x="331.00" y="320.96" text-anchor="end">0.15</text>
<text class="tl" x="331.00" y="297.84" text-anchor="end">0.2</text>
<text class="tl" x="331.00" y="274.73" text-anchor="end">0.25</text>
<text class="tl" x="331.00" y="251.61" text-anchor="end">0.3</text>
<text class="tl" x="331.00" y="228.50" text-anchor="end">0.35</text>
<text class="tl" x="437.75" y="405.80" text-anchor="middle">x/m</text>
<text class="tl" transform="translate(314.50 306.40) rotate(-90)" text-anchor="middle">Error</text>
<text class="cap" x="432.75" y="425.00" text-anchor="middle">(<tspan class="l">f</tspan>)</text>
</g>
</svg>
</body></html>
